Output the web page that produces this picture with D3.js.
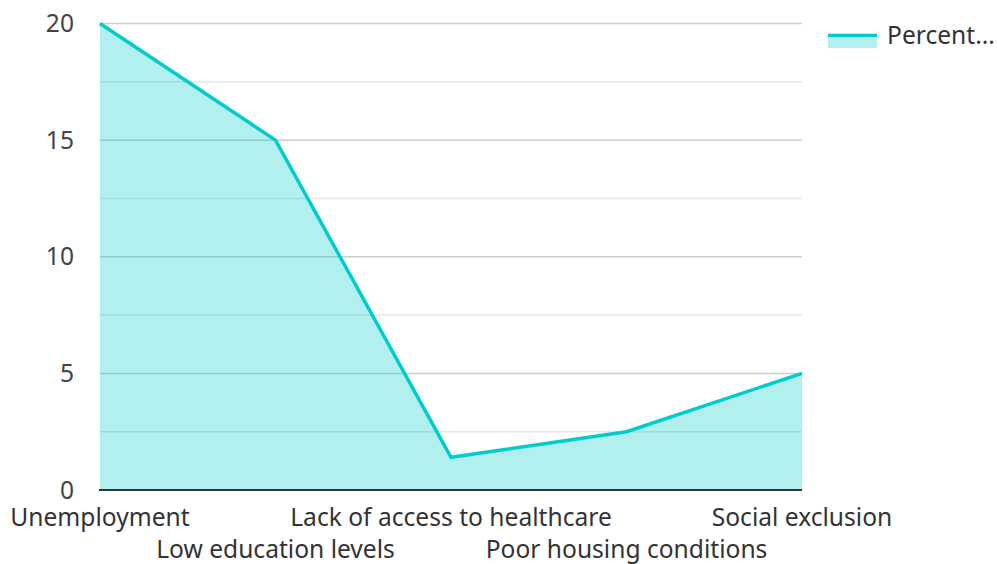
<!DOCTYPE html>
<html>
<head>
<meta charset="utf-8">
<script src="https://cdn.jsdelivr.net/npm/d3@7"></script>
<style>
  body { margin: 0; background: #fff; }
  text { font-family: "Noto Sans", "Open Sans", sans-serif; }
</style>
</head>
<body>
<svg id="chart" width="997" height="564"></svg>
<script>
var categories = ["Unemployment", "Low education levels", "Lack of access to healthcare", "Poor housing conditions", "Social exclusion"];
var percents = [20, 15, 1.4, 2.5, 5];
var yTicks = [0, 5, 10, 15, 20];
var seriesName = "Percent...";

var svg = d3.select("#chart");
var plotLeft = 100, plotRight = 802, plotTop = 23.5, plotBottom = 490;

var x = d3.scalePoint()
          .domain(categories)
          .range([plotLeft, plotRight]);

var y = d3.scaleLinear()
          .domain([0, 20])
          .range([plotBottom, plotTop]);

// minor grid every 2.5
svg.append("g")
   .selectAll("line")
   .data(d3.range(2.5, 20, 5))
   .enter()
   .append("line")
   .attr("x1", plotLeft).attr("x2", plotRight)
   .attr("y1", d => y(d)).attr("y2", d => y(d))
   .attr("stroke", "#e6e6e6")
   .attr("stroke-width", 1.5);

// major grid
svg.append("g")
   .selectAll("line")
   .data(yTicks.slice(1))
   .enter()
   .append("line")
   .attr("x1", plotLeft).attr("x2", plotRight)
   .attr("y1", d => y(d)).attr("y2", d => y(d))
   .attr("stroke", "#cccccc")
   .attr("stroke-width", 1.5);

var data = categories.map((c, i) => ({ cat: c, value: percents[i] }));

var area = d3.area()
             .x(d => x(d.cat))
             .y0(y(0))
             .y1(d => y(d.value));

var line = d3.line()
             .x(d => x(d.cat))
             .y(d => y(d.value));

svg.append("path")
   .datum(data)
   .attr("d", area)
   .attr("fill", "#00cccc")
   .attr("fill-opacity", 0.3);

svg.append("path")
   .datum(data)
   .attr("d", line)
   .attr("fill", "none")
   .attr("stroke", "#00cccc")
   .attr("stroke-width", 3.5);

// baseline
svg.append("line")
   .attr("x1", plotLeft - 1).attr("x2", plotRight)
   .attr("y1", y(0)).attr("y2", y(0))
   .attr("stroke", "#333333")
   .attr("stroke-width", 2);

// y labels
svg.append("g")
   .selectAll("text")
   .data(yTicks)
   .enter()
   .append("text")
   .attr("x", 74)
   .attr("y", d => y(d) + 8.5)
   .attr("text-anchor", "end")
   .attr("font-size", 24.6)
   .attr("fill", "#444444")
   .text(d => d);

// x labels, staggered in two rows
svg.append("g")
   .selectAll("text")
   .data(categories)
   .enter()
   .append("text")
   .attr("x", d => x(d))
   .attr("y", (d, i) => i % 2 === 0 ? 526 : 558)
   .attr("text-anchor", "middle")
   .attr("font-size", 24.6)
   .attr("fill", "#333333")
   .text(d => d);

// legend
var legend = svg.append("g").attr("transform", "translate(828, 33)");
legend.append("rect")
      .attr("width", 49).attr("height", 15)
      .attr("fill", "#00cccc").attr("fill-opacity", 0.3);
legend.append("rect")
      .attr("y", 1)
      .attr("width", 49).attr("height", 3)
      .attr("fill", "#00cccc");
legend.append("text")
      .attr("x", 59)
      .attr("y", 11)
      .attr("font-size", 24.6)
      .attr("fill", "#333333")
      .text(seriesName);
</script>
</body>
</html>
